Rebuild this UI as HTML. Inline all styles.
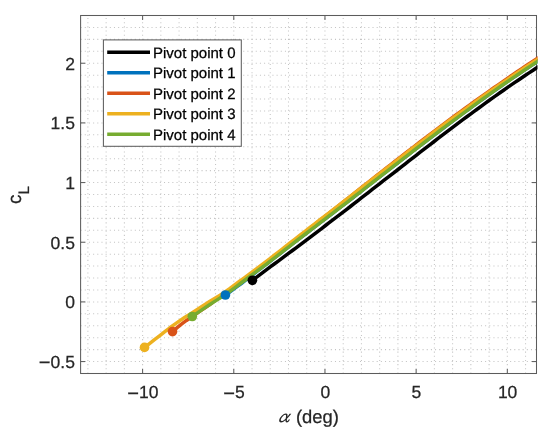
<!DOCTYPE html>
<html lang="en"><head><meta charset="utf-8"><title>cL vs alpha</title>
<style>html,body{margin:0;padding:0;background:#fff;overflow:hidden}svg{display:block}</style>
</head><body>
<svg width="550" height="435" viewBox="0 0 550 435" text-rendering="geometricPrecision">
<rect width="550" height="435" fill="#ffffff"/>
<g stroke="#c4c4c4" stroke-width="1.04" stroke-dasharray="1.04 3.13" fill="none">
<line x1="87.89" y1="373.50" x2="87.89" y2="15.50"/>
<line x1="106.13" y1="373.50" x2="106.13" y2="15.50"/>
<line x1="124.37" y1="373.50" x2="124.37" y2="15.50"/>
<line x1="142.60" y1="373.50" x2="142.60" y2="15.50"/>
<line x1="160.84" y1="373.50" x2="160.84" y2="15.50"/>
<line x1="179.07" y1="373.50" x2="179.07" y2="15.50"/>
<line x1="197.31" y1="373.50" x2="197.31" y2="15.50"/>
<line x1="215.55" y1="373.50" x2="215.55" y2="15.50"/>
<line x1="233.78" y1="373.50" x2="233.78" y2="15.50"/>
<line x1="252.02" y1="373.50" x2="252.02" y2="15.50"/>
<line x1="270.25" y1="373.50" x2="270.25" y2="15.50"/>
<line x1="288.49" y1="373.50" x2="288.49" y2="15.50"/>
<line x1="306.73" y1="373.50" x2="306.73" y2="15.50"/>
<line x1="324.96" y1="373.50" x2="324.96" y2="15.50"/>
<line x1="343.20" y1="373.50" x2="343.20" y2="15.50"/>
<line x1="361.43" y1="373.50" x2="361.43" y2="15.50"/>
<line x1="379.67" y1="373.50" x2="379.67" y2="15.50"/>
<line x1="397.91" y1="373.50" x2="397.91" y2="15.50"/>
<line x1="416.14" y1="373.50" x2="416.14" y2="15.50"/>
<line x1="434.38" y1="373.50" x2="434.38" y2="15.50"/>
<line x1="452.61" y1="373.50" x2="452.61" y2="15.50"/>
<line x1="470.85" y1="373.50" x2="470.85" y2="15.50"/>
<line x1="489.09" y1="373.50" x2="489.09" y2="15.50"/>
<line x1="507.32" y1="373.50" x2="507.32" y2="15.50"/>
<line x1="525.56" y1="373.50" x2="525.56" y2="15.50"/>
<line x1="80.60" y1="361.57" x2="536.50" y2="361.57"/>
<line x1="80.60" y1="349.63" x2="536.50" y2="349.63"/>
<line x1="80.60" y1="337.70" x2="536.50" y2="337.70"/>
<line x1="80.60" y1="325.77" x2="536.50" y2="325.77"/>
<line x1="80.60" y1="313.83" x2="536.50" y2="313.83"/>
<line x1="80.60" y1="301.90" x2="536.50" y2="301.90"/>
<line x1="80.60" y1="289.97" x2="536.50" y2="289.97"/>
<line x1="80.60" y1="278.03" x2="536.50" y2="278.03"/>
<line x1="80.60" y1="266.10" x2="536.50" y2="266.10"/>
<line x1="80.60" y1="254.17" x2="536.50" y2="254.17"/>
<line x1="80.60" y1="242.23" x2="536.50" y2="242.23"/>
<line x1="80.60" y1="230.30" x2="536.50" y2="230.30"/>
<line x1="80.60" y1="218.37" x2="536.50" y2="218.37"/>
<line x1="80.60" y1="206.43" x2="536.50" y2="206.43"/>
<line x1="80.60" y1="194.50" x2="536.50" y2="194.50"/>
<line x1="80.60" y1="182.57" x2="536.50" y2="182.57"/>
<line x1="80.60" y1="170.63" x2="536.50" y2="170.63"/>
<line x1="80.60" y1="158.70" x2="536.50" y2="158.70"/>
<line x1="80.60" y1="146.77" x2="536.50" y2="146.77"/>
<line x1="80.60" y1="134.83" x2="536.50" y2="134.83"/>
<line x1="80.60" y1="122.90" x2="536.50" y2="122.90"/>
<line x1="80.60" y1="110.97" x2="536.50" y2="110.97"/>
<line x1="80.60" y1="99.03" x2="536.50" y2="99.03"/>
<line x1="80.60" y1="87.10" x2="536.50" y2="87.10"/>
<line x1="80.60" y1="75.17" x2="536.50" y2="75.17"/>
<line x1="80.60" y1="63.23" x2="536.50" y2="63.23"/>
<line x1="80.60" y1="51.30" x2="536.50" y2="51.30"/>
<line x1="80.60" y1="39.37" x2="536.50" y2="39.37"/>
<line x1="80.60" y1="27.43" x2="536.50" y2="27.43"/>
</g>
<g stroke="#5c5c5c" stroke-width="1.04" fill="none">
<rect x="80.60" y="15.50" width="455.90" height="358.00"/>
<line x1="142.60" y1="373.50" x2="142.60" y2="368.94"/>
<line x1="142.60" y1="15.50" x2="142.60" y2="20.06"/>
<line x1="233.78" y1="373.50" x2="233.78" y2="368.94"/>
<line x1="233.78" y1="15.50" x2="233.78" y2="20.06"/>
<line x1="324.96" y1="373.50" x2="324.96" y2="368.94"/>
<line x1="324.96" y1="15.50" x2="324.96" y2="20.06"/>
<line x1="416.14" y1="373.50" x2="416.14" y2="368.94"/>
<line x1="416.14" y1="15.50" x2="416.14" y2="20.06"/>
<line x1="507.32" y1="373.50" x2="507.32" y2="368.94"/>
<line x1="507.32" y1="15.50" x2="507.32" y2="20.06"/>
<line x1="80.60" y1="361.57" x2="85.16" y2="361.57"/>
<line x1="536.50" y1="361.57" x2="531.94" y2="361.57"/>
<line x1="80.60" y1="301.90" x2="85.16" y2="301.90"/>
<line x1="536.50" y1="301.90" x2="531.94" y2="301.90"/>
<line x1="80.60" y1="242.23" x2="85.16" y2="242.23"/>
<line x1="536.50" y1="242.23" x2="531.94" y2="242.23"/>
<line x1="80.60" y1="182.57" x2="85.16" y2="182.57"/>
<line x1="536.50" y1="182.57" x2="531.94" y2="182.57"/>
<line x1="80.60" y1="122.90" x2="85.16" y2="122.90"/>
<line x1="536.50" y1="122.90" x2="531.94" y2="122.90"/>
<line x1="80.60" y1="63.23" x2="85.16" y2="63.23"/>
<line x1="536.50" y1="63.23" x2="531.94" y2="63.23"/>
</g>
<clipPath id="cp"><rect x="80.10" y="15.00" width="457.40" height="359.00"/></clipPath>
<g clip-path="url(#cp)" fill="none" stroke-width="3.5" stroke-linejoin="round">
<path d="M252.40 280.30 L256.04 277.56 L259.68 274.84 L263.32 272.12 L266.96 269.41 L270.60 266.71 L274.24 264.03 L277.88 261.36 L281.52 258.66 L285.16 255.94 L288.81 253.22 L292.45 250.52 L296.09 247.85 L299.73 245.15 L303.37 242.41 L307.01 239.64 L310.65 236.87 L314.29 234.10 L317.93 231.32 L321.57 228.54 L325.21 225.76 L328.85 222.98 L332.49 220.19 L336.13 217.40 L339.77 214.61 L343.41 211.83 L347.05 209.04 L350.69 206.24 L354.33 203.40 L357.97 200.56 L361.62 197.72 L365.26 194.89 L368.90 192.05 L372.54 189.22 L376.18 186.39 L379.82 183.57 L383.46 180.74 L387.10 177.93 L390.74 175.11 L394.38 172.31 L398.02 169.51 L401.66 166.68 L405.30 163.83 L408.94 160.97 L412.58 158.13 L416.22 155.30 L419.86 152.47 L423.50 149.65 L427.14 146.84 L430.78 144.04 L434.43 141.24 L438.07 138.46 L441.71 135.68 L445.35 132.92 L448.99 130.16 L452.63 127.41 L456.27 124.67 L459.91 121.94 L463.55 119.22 L467.19 116.51 L470.83 113.82 L474.47 111.14 L478.11 108.47 L481.75 105.81 L485.39 103.17 L489.03 100.54 L492.67 97.93 L496.31 95.33 L499.95 92.75 L503.59 90.20 L507.24 87.67 L510.88 85.16 L514.52 82.66 L518.16 80.19 L521.80 77.72 L525.44 75.28 L529.08 72.85 L532.72 70.45 L536.36 68.06 L540.00 65.69" stroke="#000000"/>
<path d="M225.40 295.00 L229.38 292.21 L233.36 289.36 L237.35 286.45 L241.33 283.49 L245.31 280.44 L249.29 277.35 L253.28 274.29 L257.26 271.23 L261.24 268.16 L265.22 265.09 L269.21 262.01 L273.19 258.93 L277.17 255.85 L281.15 252.75 L285.13 249.64 L289.12 246.54 L293.10 243.46 L297.08 240.39 L301.06 237.33 L305.05 234.30 L309.03 231.26 L313.01 228.22 L316.99 225.16 L320.97 222.12 L324.96 219.08 L328.94 216.05 L332.92 213.02 L336.90 209.98 L340.89 206.94 L344.87 203.90 L348.85 200.86 L352.83 197.78 L356.82 194.67 L360.80 191.56 L364.78 188.46 L368.76 185.36 L372.74 182.26 L376.73 179.17 L380.71 176.08 L384.69 172.99 L388.67 169.91 L392.66 166.83 L396.64 163.77 L400.62 160.69 L404.60 157.61 L408.58 154.54 L412.57 151.47 L416.55 148.41 L420.53 145.36 L424.51 142.32 L428.50 139.28 L432.48 136.26 L436.46 133.25 L440.44 130.25 L444.43 127.26 L448.41 124.29 L452.39 121.31 L456.37 118.34 L460.35 115.39 L464.34 112.45 L468.32 109.52 L472.30 106.61 L476.28 103.72 L480.27 100.84 L484.25 97.97 L488.23 95.13 L492.21 92.30 L496.19 89.49 L500.18 86.70 L504.16 83.92 L508.14 81.17 L512.12 78.43 L516.11 75.72 L520.09 73.03 L524.07 70.36 L528.05 67.71 L532.04 65.08 L536.02 62.47 L540.00 59.89" stroke="#0072bd"/>
<path d="M172.50 331.60 L177.15 327.60 L181.80 323.87 L186.46 320.45 L191.11 317.20 L195.76 313.98 L200.41 310.84 L205.06 307.71 L209.72 304.50 L214.37 301.17 L219.02 297.77 L223.67 294.37 L228.32 290.96 L232.97 287.53 L237.63 284.08 L242.28 280.62 L246.93 277.14 L251.58 273.65 L256.23 270.15 L260.89 266.65 L265.54 263.13 L270.19 259.58 L274.84 255.96 L279.49 252.30 L284.15 248.62 L288.80 244.93 L293.45 241.28 L298.10 237.64 L302.75 233.98 L307.41 230.31 L312.06 226.63 L316.71 222.95 L321.36 219.27 L326.01 215.60 L330.66 211.94 L335.32 208.27 L339.97 204.60 L344.62 200.92 L349.27 197.25 L353.92 193.58 L358.58 189.90 L363.23 186.23 L367.88 182.56 L372.53 178.90 L377.18 175.24 L381.84 171.58 L386.49 167.93 L391.14 164.29 L395.79 160.65 L400.44 157.03 L405.09 153.44 L409.75 149.86 L414.40 146.29 L419.05 142.73 L423.70 139.18 L428.35 135.65 L433.01 132.13 L437.66 128.62 L442.31 125.13 L446.96 121.66 L451.61 118.20 L456.27 114.77 L460.92 111.36 L465.57 107.96 L470.22 104.59 L474.87 101.24 L479.53 97.91 L484.18 94.60 L488.83 91.31 L493.48 88.05 L498.13 84.82 L502.78 81.58 L507.44 78.36 L512.09 75.16 L516.74 71.99 L521.39 68.85 L526.04 65.74 L530.70 62.66 L535.35 59.61 L540.00 56.59" stroke="#d95319"/>
<path d="M144.50 347.40 L149.51 343.57 L154.51 339.73 L159.52 335.85 L164.53 331.89 L169.53 328.01 L174.54 324.33 L179.54 320.84 L184.55 317.51 L189.56 314.37 L194.56 311.22 L199.57 308.01 L204.58 304.79 L209.58 301.60 L214.59 298.53 L219.59 295.44 L224.60 292.22 L229.61 288.72 L234.61 285.01 L239.62 281.27 L244.63 277.56 L249.63 273.83 L254.64 270.10 L259.65 266.36 L264.65 262.61 L269.66 258.82 L274.66 254.96 L279.67 251.05 L284.68 247.11 L289.68 243.17 L294.69 239.27 L299.70 235.38 L304.70 231.53 L309.71 227.68 L314.72 223.82 L319.72 219.96 L324.73 216.11 L329.73 212.27 L334.74 208.42 L339.75 204.57 L344.75 200.72 L349.76 196.86 L354.77 192.98 L359.77 189.10 L364.78 185.22 L369.78 181.34 L374.79 177.47 L379.80 173.60 L384.80 169.74 L389.81 165.89 L394.82 162.05 L399.82 158.21 L404.83 154.36 L409.84 150.51 L414.84 146.68 L419.85 142.86 L424.85 139.06 L429.86 135.27 L434.87 131.49 L439.87 127.74 L444.88 124.00 L449.89 120.28 L454.89 116.60 L459.90 112.94 L464.91 109.31 L469.91 105.70 L474.92 102.11 L479.92 98.54 L484.93 95.00 L489.94 91.49 L494.94 88.02 L499.95 84.55 L504.96 81.09 L509.96 77.64 L514.97 74.23 L519.97 70.85 L524.98 67.51 L529.99 64.20 L534.99 60.93 L540.00 57.69" stroke="#edb120"/>
<path d="M192.30 316.50 L196.70 313.41 L201.10 310.36 L205.50 307.37 L209.91 304.45 L214.31 301.64 L218.71 298.87 L223.11 296.03 L227.51 293.01 L231.91 289.81 L236.31 286.53 L240.71 283.26 L245.12 280.00 L249.52 276.72 L253.92 273.44 L258.32 270.15 L262.72 266.85 L267.12 263.54 L271.52 260.20 L275.92 256.81 L280.33 253.40 L284.73 249.97 L289.13 246.53 L293.53 243.13 L297.93 239.74 L302.33 236.36 L306.73 233.01 L311.13 229.65 L315.54 226.28 L319.94 222.91 L324.34 219.56 L328.74 216.21 L333.14 212.85 L337.54 209.49 L341.94 206.13 L346.34 202.78 L350.75 199.40 L355.15 195.97 L359.55 192.53 L363.95 189.10 L368.35 185.68 L372.75 182.25 L377.15 178.83 L381.55 175.42 L385.96 172.01 L390.36 168.61 L394.76 165.21 L399.16 161.82 L403.56 158.42 L407.96 155.02 L412.36 151.63 L416.76 148.24 L421.17 144.87 L425.57 141.51 L429.97 138.17 L434.37 134.83 L438.77 131.51 L443.17 128.20 L447.57 124.91 L451.97 121.62 L456.38 118.34 L460.78 115.08 L465.18 111.83 L469.58 108.60 L473.98 105.39 L478.38 102.20 L482.78 99.02 L487.18 95.87 L491.59 92.74 L495.99 89.63 L500.39 86.55 L504.79 83.49 L509.19 80.45 L513.59 77.43 L517.99 74.44 L522.39 71.48 L526.80 68.54 L531.20 65.63 L535.60 62.75 L540.00 59.89" stroke="#77ac30"/>
</g>
<circle cx="252.40" cy="280.30" r="4.85" fill="#000000"/>
<circle cx="225.40" cy="295.00" r="4.85" fill="#0072bd"/>
<circle cx="172.50" cy="331.60" r="4.85" fill="#d95319"/>
<circle cx="144.50" cy="347.40" r="4.85" fill="#edb120"/>
<circle cx="192.30" cy="316.50" r="4.85" fill="#77ac30"/>
<g font-family="'Liberation Sans', Arial, Helvetica, sans-serif" font-size="17.5" fill="#262626" stroke="#262626" stroke-width="0.25">
<text x="142.90" y="398.4" text-anchor="middle"><tspan font-size="20.1" dy="1.5">−</tspan><tspan dy="-1.5">10</tspan></text>
<text x="234.08" y="398.4" text-anchor="middle"><tspan font-size="20.1" dy="1.5">−</tspan><tspan dy="-1.5">5</tspan></text>
<text x="325.26" y="398.4" text-anchor="middle">0</text>
<text x="416.44" y="398.4" text-anchor="middle">5</text>
<text x="507.62" y="398.4" text-anchor="middle">10</text>
<text x="74.9" y="367.97" text-anchor="end"><tspan font-size="20.1" dy="1.5">−</tspan><tspan dy="-1.5">0.5</tspan></text>
<text x="74.9" y="308.30" text-anchor="end">0</text>
<text x="74.9" y="248.63" text-anchor="end">0.5</text>
<text x="74.9" y="188.97" text-anchor="end">1</text>
<text x="74.9" y="129.30" text-anchor="end">1.5</text>
<text x="74.9" y="69.63" text-anchor="end">2</text>
</g>
<text x="275.0" y="422.6" font-family="'Liberation Sans', Arial, Helvetica, sans-serif" font-size="18.4" fill="#262626" stroke="#262626" stroke-width="0.25"><tspan font-family="IPAGothic, 'DejaVu Math TeX Gyre', serif" font-style="italic" font-size="17.6" stroke-width="0">α </tspan><tspan x="296.0">(deg)</tspan></text>
<g transform="translate(20.7 203.9) rotate(-90)" font-family="'Liberation Sans', Arial, Helvetica, sans-serif" fill="#262626" stroke="#262626" stroke-width="0.25"><text x="0" y="0" font-size="19.0">c<tspan font-size="15.2" dy="8.6">L</tspan></text></g>
<rect x="103.4" y="39.9" width="137.90" height="106.40" fill="#ffffff" stroke="#5c5c5c" stroke-width="1.04"/>
<line x1="107.2" y1="52.2" x2="150.0" y2="52.2" stroke="#000000" stroke-width="3.5"/>
<text x="153.0" y="57.50" font-family="'Liberation Sans', Arial, Helvetica, sans-serif" font-size="15.0" fill="#000000" stroke="#000000" stroke-width="0.25">Pivot point 0</text>
<line x1="107.2" y1="72.8" x2="150.0" y2="72.8" stroke="#0072bd" stroke-width="3.5"/>
<text x="153.0" y="78.10" font-family="'Liberation Sans', Arial, Helvetica, sans-serif" font-size="15.0" fill="#000000" stroke="#000000" stroke-width="0.25">Pivot point 1</text>
<line x1="107.2" y1="93.3" x2="150.0" y2="93.3" stroke="#d95319" stroke-width="3.5"/>
<text x="153.0" y="98.60" font-family="'Liberation Sans', Arial, Helvetica, sans-serif" font-size="15.0" fill="#000000" stroke="#000000" stroke-width="0.25">Pivot point 2</text>
<line x1="107.2" y1="113.8" x2="150.0" y2="113.8" stroke="#edb120" stroke-width="3.5"/>
<text x="153.0" y="119.10" font-family="'Liberation Sans', Arial, Helvetica, sans-serif" font-size="15.0" fill="#000000" stroke="#000000" stroke-width="0.25">Pivot point 3</text>
<line x1="107.2" y1="134.3" x2="150.0" y2="134.3" stroke="#77ac30" stroke-width="3.5"/>
<text x="153.0" y="139.60" font-family="'Liberation Sans', Arial, Helvetica, sans-serif" font-size="15.0" fill="#000000" stroke="#000000" stroke-width="0.25">Pivot point 4</text>
</svg>
</body></html>
